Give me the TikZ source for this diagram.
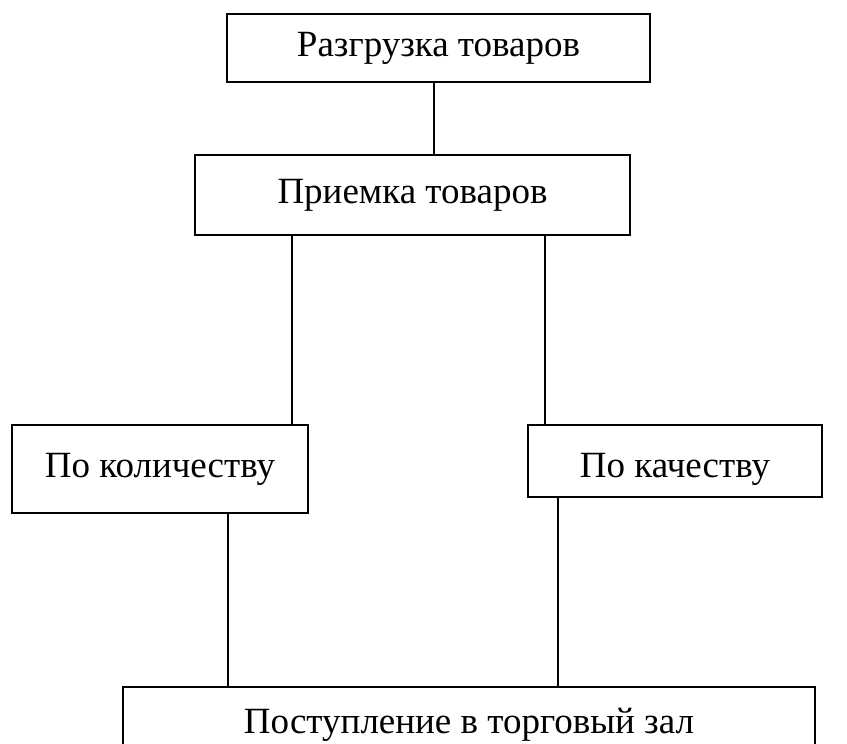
\documentclass[tikz,border=0pt]{standalone}
\usepackage{fontspec}
\setmainfont{Liberation Serif}
\begin{document}
\begin{tikzpicture}[x=1pt,y=1pt,
    stagebox/.style={draw, line width=2pt, inner sep=0pt, font=\fontsize{37}{42}\selectfont},
    link/.style={line width=2pt}]
    \clip (0,0) rectangle (847,-744);
    \useasboundingbox (0,0) rectangle (847,-744);

    % stages
    \node [stagebox, minimum width=423, minimum height=68] (unload) at (438.5,-48) {Разгрузка товаров};
    \node [stagebox, minimum width=435, minimum height=80] (accept) at (412.5,-195) {Приемка товаров};
    \node [stagebox, minimum width=296, minimum height=88] (count) at (160,-469) {По количеству};
    \node [stagebox, minimum width=294, minimum height=72, text height=40pt] (quality) at (675,-461) {По качеству};
    \node [stagebox, minimum width=692, minimum height=76] (hall) at (469,-725) {Поступление в торговый зал};

    % links
    \draw [link] ([xshift=-4.5pt]unload.south) -- ([xshift=21.5pt]accept.north);
    \draw [link] ([xshift=-120.5pt]accept.south) -- ([xshift=132pt]count.north);
    \draw [link] ([xshift=132.5pt]accept.south) -- ([xshift=-130pt]quality.north);
    \draw [link] ([xshift=68pt]count.south) -- ([xshift=-241pt]hall.north);
    \draw [link] ([xshift=-117pt]quality.south) -- ([xshift=89pt]hall.north);
\end{tikzpicture}
\end{document}
